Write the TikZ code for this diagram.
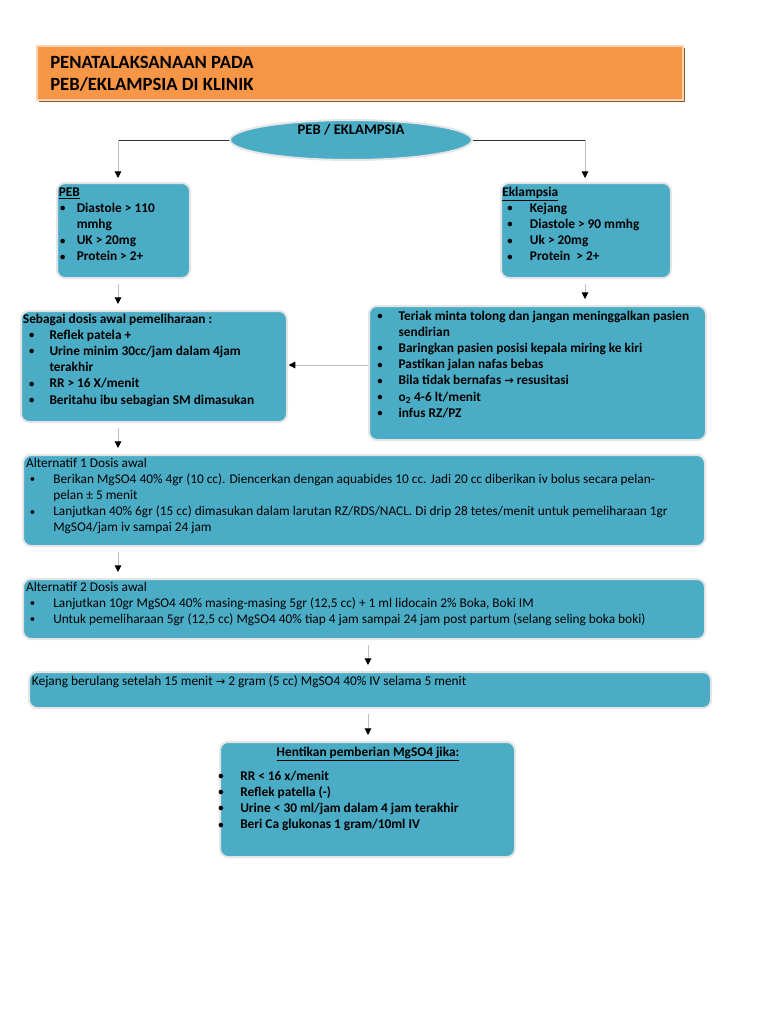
\documentclass[tikz,border=0pt]{standalone}
\usepackage{fontspec}
\setmainfont{Carlito}
\newfontfamily\panahfont{DejaVu Sans}
\usetikzlibrary{shapes.geometric,arrows.meta,fit}
\definecolor{aqua}{HTML}{4BACC6}
\definecolor{jingga}{HTML}{F79646}
\definecolor{bayang}{HTML}{8A5A2E}
\newcommand{\bul}[2]{\hspace*{#1}\makebox[#2][l]{\raisebox{0.4pt}{\fontsize{8}{8}\selectfont\textbullet}}}
\newcommand{\panah}{{\panahfont\fontsize{8.5}{10}\selectfont →}}

\begin{document}
\begin{tikzpicture}[x=0.75pt,y=-0.75pt,
	kotak/.style={fill=aqua,draw=black!10,line width=1.5pt,rounded corners=6pt,inner sep=0pt},
	isi/.style={anchor=base west,inner sep=0pt,align=left,font=\fontsize{10}{12.15}\selectfont\bfseries},
	isitipis/.style={isi,font=\fontsize{10}{12.15}\selectfont},
	garis/.style={color=black!25,line width=0.75pt,-{Triangle[color=black,fill=black,length=5pt,width=5pt]}}]
	\useasboundingbox (0,0) rectangle (768,1024);
	% judul
	\node[fill=bayang,inner sep=0pt,fit={(39,48) (685,102)}] (bayangan) {};
	\node[fill=jingga,draw=jingga!40!white,line width=1.5pt,inner sep=0pt,fit={(37,46) (683,100)}] (judul) {};
	\node[anchor=base west,inner sep=0pt,align=left,font=\fontsize{14}{16.2}\selectfont\bfseries] (judulteks) at (50,90) {PENATALAKSANAAN PADA\\PEB/EKLAMPSIA DI KLINIK};
	% kotak
	\node[ellipse,fill=aqua,draw=black!10,line width=1.5pt,minimum width=181.5pt,minimum height=30pt,inner sep=0pt] (akar) at (351,140) {};
	\node[anchor=base,inner sep=0pt,font=\fontsize{11}{13}\selectfont\bfseries] (akarteks) at (351,134.6) {PEB / EKLAMPSIA};
	\node[kotak,fit={(57,183) (190,278)}] (peb) {};
	\node[kotak,fit={(501,183) (671,278)}] (ekl) {};
	\node[kotak,fit={(21,311) (287,422)}] (awal) {};
	\node[kotak,fit={(369,306) (706,440)}] (tolong) {};
	\node[kotak,fit={(23,455) (705,546)}] (alt1) {};
	\node[kotak,fit={(23,579) (705,639)}] (alt2) {};
	\node[kotak,fit={(29,672) (711,708)}] (ulang) {};
	\node[kotak,fit={(220,742) (515,857)}] (henti) {};
	% isi (titik jangkar = garis dasar baris terakhir)
	\node[isi] (pebteks) at (58.5,260.8) {\underline{PEB}\\
		\bul{1pt}{12.5pt}Diastole > 110\\
		\hspace*{13.5pt}mmhg\\
		\bul{1pt}{12.5pt}UK > 20mg\\
		\bul{1pt}{12.5pt}Protein > 2+};
	\node[isi] (eklteks) at (502,260.8) {\underline{Eklampsia}\\
		\bul{3.75pt}{17pt}Kejang\\
		\bul{3.75pt}{17pt}Diastole > 90 mmhg\\
		\bul{3.75pt}{17pt}Uk > 20mg\\
		\bul{3.75pt}{17pt}Protein \ > 2+};
	\node[isi] (awalteks) at (22.7,404) {Sebagai dosis awal pemeliharaan :\\
		\bul{4.7pt}{15.2pt}Reflek patela +\\
		\bul{4.7pt}{15.2pt}Urine minim 30cc/jam dalam 4jam\\
		\hspace*{19.9pt}terakhir\\
		\bul{4.7pt}{15.2pt}RR > 16 X/menit\\
		\bul{4.7pt}{15.2pt}Beritahu ibu sebagian SM dimasukan};
	\node[isi] (tolongteks) at (377,417.2) {\bul{0pt}{16pt}Teriak minta tolong dan jangan meninggalkan pasien\\
		\hspace*{16pt}sendirian\\
		\bul{0pt}{16pt}Baringkan pasien posisi kepala miring ke kiri\\
		\bul{0pt}{16pt}Pastikan jalan nafas bebas\\
		\bul{0pt}{16pt}Bila tidak bernafas \panah{} resusitasi\\
		\bul{0pt}{16pt}o\textsubscript{2} 4-6 lt/menit\\
		\bul{0pt}{16pt}infus RZ/PZ};
	\node[isitipis] (alt1teks) at (25.8,531.8) {Alternatif 1 Dosis awal\\
		\bul{2.8pt}{17.6pt}Berikan MgSO4 40\% 4gr (10 cc). Diencerkan dengan aquabides 10 cc. Jadi 20 cc diberikan iv bolus secara pelan-\\
		\hspace*{20.4pt}pelan ± 5 menit\\
		\bul{2.8pt}{17.6pt}Lanjutkan 40\% 6gr (15 cc) dimasukan dalam larutan RZ/RDS/NACL. Di drip 28 tetes/menit untuk pemeliharaan 1gr\\
		\hspace*{20.4pt}MgSO4/jam iv sampai 24 jam};
	\node[isitipis] (alt2teks) at (25.8,623.4) {Alternatif 2 Dosis awal\\
		\bul{2.8pt}{17.6pt}Lanjutkan 10gr MgSO4 40\% masing-masing 5gr (12,5 cc) + 1 ml lidocain 2\% Boka, Boki IM\\
		\bul{2.8pt}{17.6pt}Untuk pemeliharaan 5gr (12,5 cc) MgSO4 40\% tiap 4 jam sampai 24 jam post partum (selang seling boka boki)};
	\node[isitipis] (ulangteks) at (31.7,685) {Kejang berulang setelah 15 menit \panah{} 2 gram (5 cc) MgSO4 40\% IV selama 5 menit};
	\node[isi,anchor=base] (hentijudul) at (368,756) {\underline{Hentikan pemberian MgSO4 jika:}};
	\node[isi] (hentiteks) at (218,828.6) {\bul{0pt}{16.5pt}RR < 16 x/menit\\
		\bul{0pt}{16.5pt}Reflek patella (-)\\
		\bul{0pt}{16.5pt}Urine < 30 ml/jam dalam 4 jam terakhir\\
		\bul{0pt}{16.5pt}Beri Ca glukonas 1 gram/10ml IV};
	% panah
	\coordinate (kiri) at (118,0);
	\coordinate (kanan) at (585,0);
	\coordinate (tengah) at (368,0);
	\coordinate (sisi) at (0,365);
	\draw[black!80,line width=0.75pt] (akar.west) -- (akar.west -| kiri);
	\draw[black!80,line width=0.75pt] (akar.east) -- (akar.east -| kanan);
	\path[garis,shorten >=3pt]
	(akar.west -| kiri) edge (peb.north -| kiri)
	(akar.east -| kanan) edge (ekl.north -| kanan);
	\path[garis,shorten <=4pt,shorten >=4.5pt]
	(peb.south -| kiri) edge (awal.north -| kiri)
	(ekl.south -| kanan) edge (tolong.north -| kanan)
	(awal.south -| kiri) edge (alt1.north -| kiri)
	(alt1.south -| kiri) edge (alt2.north -| kiri)
	(alt2.south -| tengah) edge (ulang.north -| tengah)
	(ulang.south -| tengah) edge (henti.north -| tengah);
	\path[garis,shorten >=0.5pt]
	(tolong.west |- sisi) edge (awal.east |- sisi);
\end{tikzpicture}
\end{document}
